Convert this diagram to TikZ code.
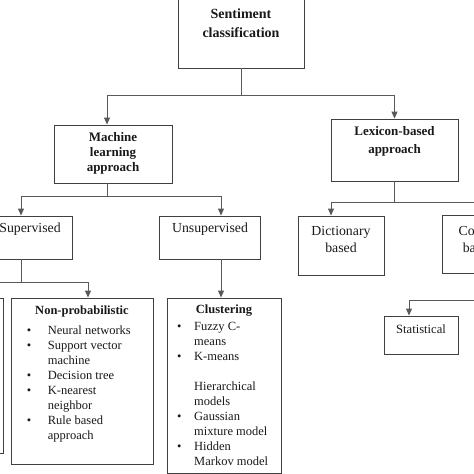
\documentclass[tikz,border=0pt]{standalone}
\usepackage{fontspec}
\setmainfont{Liberation Serif}
\usetikzlibrary{arrows.meta}

\begin{document}
\begin{tikzpicture}[x=1pt, y=-1pt,
  box/.style={draw=black!75, line width=0.9pt, inner sep=0pt},
  txt/.style={align=center, inner sep=0pt, text=black!90},
  bigtxt/.style={txt, font=\fontsize{13.8}{17}\selectfont},
  listtxt/.style={txt, anchor=north west, align=left, font=\fontsize{12.5}{15}\selectfont},
  arr/.style={draw=black!65, line width=0.9pt, -{Triangle[width=6pt,length=7pt]}}]
\useasboundingbox (0,0) rectangle (474,474);
\clip (0,0) rectangle (474,474);
% boxes
\node[box, minimum width=126pt, minimum height=78pt]  (sent)    at (241,29) {};
\node[box, minimum width=118pt, minimum height=58pt]  (ml)      at (113,154) {};
\node[box, minimum width=127pt, minimum height=62pt]  (lex)     at (394.5,150) {};
\node[box, minimum width=84pt,  minimum height=43pt]  (sup)     at (30,237.5) {};
\node[box, minimum width=101pt, minimum height=43pt]  (unsup)   at (209.5,237.5) {};
\node[box, minimum width=86pt,  minimum height=59pt]  (dict)    at (341,245.5) {};
\node[box, minimum width=73pt,  minimum height=58pt]  (corpus)  at (478.5,244.5) {};
\node[box, minimum width=74pt,  minimum height=38pt]  (stat)    at (421,335) {};
\node[box, minimum width=143pt, minimum height=155pt] (prob)    at (-68.5,375.5) {};
\node[box, minimum width=142pt, minimum height=166pt] (nonprob) at (82,381) {};
\node[box, minimum width=114pt, minimum height=175pt] (clust)   at (224,385.5) {};
% texts
\node[txt, font=\bfseries\fontsize{14}{19}\selectfont] (senttxt) at (241,23.5) {Sentiment\\classification};
\node[txt, font=\bfseries\fontsize{13}{15}\selectfont] (mltxt) at (113,153) {Machine\\learning\\approach};
\node[txt, font=\bfseries\fontsize{13}{18}\selectfont] (lextxt) at (394.5,141) {Lexicon-based\\approach};
\node[bigtxt] (suptxt) at (30,229) {Supervised};
\node[bigtxt] (unsuptxt) at (210,229) {Unsupervised};
\node[bigtxt] (dicttxt) at (341,239.5) {Dictionary\\based};
\node[bigtxt] (corpustxt) at (478.5,239.5) {Corpus\\based};
\node[txt, font=\fontsize{12.6}{15}\selectfont] (stattxt) at (421,329) {Statistical};
\node[txt, font=\bfseries\fontsize{12.5}{15}\selectfont] (nptitle) at (82,311.5) {Non-probabilistic};
\node[txt, font=\bfseries\fontsize{12.5}{15}\selectfont] (cltitle) at (224,311) {Clustering};
\node[listtxt] (nplist) at (26.8,323.5) {\begin{tabular}{@{}c@{\hspace{16.5pt}}l@{}}
\textbullet & Neural networks\\
\textbullet & Support vector\\
 & machine\\
\textbullet & Decision tree\\
\textbullet & K-nearest\\
 & neighbor\\
\textbullet & Rule based\\
 & approach
\end{tabular}};
\node[listtxt] (cllist) at (177,320) {\begin{tabular}{@{}c@{\hspace{12.6pt}}l@{}}
\textbullet & Fuzzy C-\\
 & means\\
\textbullet & K-means\\
 & \\
 & Hierarchical\\
 & models\\
\textbullet & Gaussian\\
 & mixture model\\
\textbullet & Hidden\\
 & Markov model
\end{tabular}};
% connectors
\draw[arr] (sent.south) -- ++(0,27) -| ([xshift=-6pt]ml.north);
\draw[arr] (sent.south) -- ++(0,27) -| (lex.north);
\draw[arr] ([xshift=-6pt]ml.south) -- ++(0,13) -| ([xshift=-9pt]sup.north);
\draw[arr] ([xshift=-6pt]ml.south) -- ++(0,13) -| ([xshift=11.5pt]unsup.north);
\draw[arr] (lex.south) -- ++(0,21) -| ([xshift=-10pt]dict.north);
\draw[arr] (lex.south) -- ++(0,21) -| ([xshift=6pt]corpus.north);
\draw[arr] ([xshift=-9pt]sup.south) -- ++(0,23) -| ([xshift=6pt]nonprob.north);
\draw[arr] ([xshift=-9pt]sup.south) -- ++(0,23) -| ([xshift=6pt]prob.north);
\draw[arr] ([xshift=11.5pt]unsup.south) -- ([xshift=-3pt]clust.north);
\draw[arr] (corpus.south) -- ++(0,26) -| ([xshift=-12pt]stat.north);
\end{tikzpicture}
\end{document}
